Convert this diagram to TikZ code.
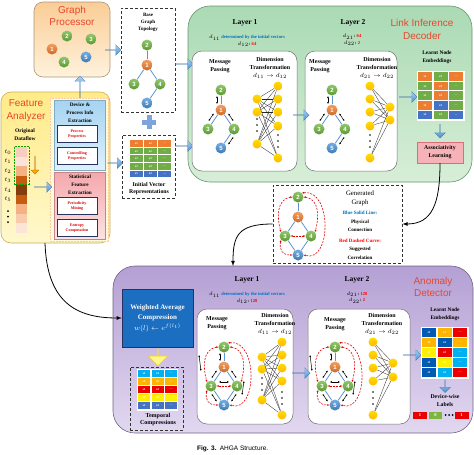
\documentclass[tikz,border=0pt]{standalone}
\usepackage{fontspec}
\setmainfont{Liberation Serif}
\newfontfamily\ttlfont{Liberation Sans}
\usetikzlibrary{positioning,calc,shapes.arrows,arrows.meta}

\definecolor{ttlred}{RGB}{232,70,45}
\definecolor{physblue}{RGB}{91,150,210}
\definecolor{txtblue}{RGB}{0,112,192}
\definecolor{gnGreen}{RGB}{110,180,60}
\definecolor{gnOrange}{RGB}{242,125,45}
\definecolor{gnBlue}{RGB}{70,145,215}
\definecolor{neuYel}{RGB}{255,192,0}
\definecolor{arrBlue}{RGB}{80,145,210}
\definecolor{arrBlueL}{RGB}{165,205,240}
\definecolor{tOrange}{RGB}{237,125,49}
\definecolor{tGreen}{RGB}{112,173,71}
\definecolor{tBlue}{RGB}{68,114,196}
\definecolor{tDBlue}{RGB}{0,90,180}
\definecolor{tCyan}{RGB}{0,176,240}
\definecolor{tGold}{RGB}{255,180,0}
\definecolor{tRed}{RGB}{235,0,0}
\definecolor{tYel}{RGB}{255,240,0}
\definecolor{navyb}{RGB}{40,50,95}
\definecolor{gpTop}{RGB}{250,205,150}
\definecolor{gpBot}{RGB}{255,242,220}
\definecolor{gpLine}{RGB}{170,150,120}
\definecolor{faTop}{RGB}{255,235,135}
\definecolor{faBot}{RGB}{255,248,205}
\definecolor{faLine}{RGB}{200,175,90}
\definecolor{faIn}{RGB}{255,250,218}
\definecolor{devTop}{RGB}{165,212,242}
\definecolor{devBot}{RGB}{222,240,252}
\definecolor{stTop}{RGB}{244,168,172}
\definecolor{stBot}{RGB}{252,226,228}
\definecolor{lidTop}{RGB}{170,218,180}
\definecolor{lidBot}{RGB}{215,238,215}
\definecolor{lidLine}{RGB}{100,150,110}
\definecolor{adTop}{RGB}{180,160,212}
\definecolor{adBot}{RGB}{226,216,240}
\definecolor{adLine}{RGB}{110,100,135}
\definecolor{wacBlue}{RGB}{28,110,192}
\definecolor{alFill}{RGB}{246,178,182}
\definecolor{alLine}{RGB}{215,110,120}
\definecolor{plusBlue}{RGB}{125,165,220}
\definecolor{df1}{RGB}{248,205,190}
\definecolor{df2}{RGB}{251,226,218}
\definecolor{df3}{RGB}{244,177,131}
\definecolor{df4}{RGB}{197,90,17}
\definecolor{df5}{RGB}{132,60,12}
\definecolor{df6}{RGB}{197,90,17}
\definecolor{df7}{RGB}{244,177,131}
\definecolor{df8}{RGB}{248,203,173}
\definecolor{df9}{RGB}{251,229,214}

\tikzset{
	gnode/.style={circle, inner sep=0pt, minimum size=11pt, text=white, font=\ttlfont\bfseries\fontsize{6}{6}\selectfont},
	gnG/.style={gnode, top color=gnGreen!75!white, bottom color=gnGreen!85!black},
	gnO/.style={gnode, top color=gnOrange!75!white, bottom color=gnOrange!85!black},
	gnB/.style={gnode, top color=gnBlue!75!white, bottom color=gnBlue!85!black},
	neuron/.style={circle, inner sep=0pt, minimum size=9pt, top color=neuYel!55!yellow, bottom color=neuYel!90!orange},
	phys/.style={draw=physblue, line width=0.8pt},
	syn/.style={line width=0.3pt, black!85},
	msgarr/.style={{Latex[length=2pt,width=1.8pt]}-{Latex[length=2pt,width=1.8pt]}, line width=0.5pt},
	corr/.style={draw=red!90!black, dash pattern=on 2pt off 1.3pt, line width=0.6pt, {Latex[length=2pt,width=2pt]}-{Latex[length=2pt,width=2pt]}},
	dashbox/.style={draw=black!80, dash pattern=on 3pt off 2pt, line width=0.8pt, fill=white, inner sep=0pt},
	bigbox/.style={rounded corners=#1, inner sep=0pt, line width=0.6pt},
	panel/.style={draw=black!55, line width=0.5pt, fill=white, rounded corners=10pt, inner sep=0pt},
	blkarrow/.style={single arrow, draw=arrBlue!80!black, line width=0.2pt, top color=arrBlueL, bottom color=arrBlue, minimum height=#1, minimum width=11pt, single arrow head extend=2.5pt, inner sep=0pt},
	ttl/.style={text=ttlred, font=\ttlfont\fontsize{10}{12.5}\selectfont, align=center, inner sep=0pt},
	lbl/.style={font=\bfseries\fontsize{6}{8}\selectfont, align=center, inner sep=0pt},
	layerlbl/.style={font=\bfseries\fontsize{7.5}{8}\selectfont, inner sep=0pt},
	dimlbl/.style={font=\bfseries\fontsize{4.6}{6.5}\selectfont, align=center, inner sep=0pt},
	subbox/.style={draw=navyb, line width=0.6pt, fill=white, minimum width=40pt, minimum height=17pt, inner sep=0pt, text=red!85!black, align=center, font=\bfseries\fontsize{4}{5}\selectfont},
	cell/.style={inner sep=0pt, text=white, font=\bfseries\fontsize{3}{3}\selectfont},
	grf/.pic={
		\node[gnO] (-n1) at (0,0) {1};
		\node[gnG] (-n2) at (0,-20) {2};
		\node[gnG] (-n3) at (-13,19) {3};
		\node[gnG] (-n4) at (13,19) {4};
		\node[gnB] (-n5) at (0,38) {5};
	}
}

% table of x1 x2 ... cells: name, left, top, width, height, rows
\newcommand\celltable[6]{%
	\foreach [count=\r] \ca/\cb/\cc in {#6} {
		\node[cell, fill=\ca, minimum width=#4pt, minimum height=#5pt, anchor=north west] (#1-\r-1) at ({#2},{#3+(\r-1)*(#5+1)}) {x1};
		\node[cell, fill=\cb, minimum width=#4pt, minimum height=#5pt, right=1pt of #1-\r-1] (#1-\r-2) {x2};
		\node[cell, fill=\cc, minimum width=#4pt, minimum height=#5pt, right=1pt of #1-\r-2] (#1-\r-3) {\dots};
	}}
% neuron column, links and dots
\newcommand\neucol[3]{\foreach [count=\k] \yy in {#3} \node[neuron] (#1\k) at (#2,\yy) {};}
\newcommand\neulinks[4]{\foreach \i in {1,...,#2} \foreach \j in {1,...,#4} \draw[syn] (#1\i) -- (#3\j);}
\newcommand\neudots[2]{\foreach \d in {#2} \fill (#1,\d) circle (0.9pt);}
% graph edges
\newcommand\physedges[2]{\foreach \a/\b in {#2} \draw[phys] (#1-n\a) -- (#1-n\b);}
\newcommand\msgarrows[2]{\foreach \a/\b in {#2} \draw[msgarr] ($(#1-n\a)!0.3!(#1-n\b)!4pt!90:(#1-n\b)$) -- ($(#1-n\a)!0.7!(#1-n\b)!4pt!-90:(#1-n\a)$);}
\newcommand\corrs[1]{%
	\draw[corr] (#1-n2.west) .. controls +(-16,2) and +(-4,-14) .. (#1-n3.north west);
	\draw[corr] (#1-n2.east) .. controls +(16,2) and +(4,-14) .. (#1-n4.north east);
	\draw[corr] (#1-n2.north east) .. controls +(30,-4) and +(28,8) .. (#1-n5.east);
	\draw[corr] (#1-n3) -- (#1-n4);
	\draw[corr] (#1-n3.south west) .. controls +(-2,10) and +(-10,0) .. (#1-n5.west);
}

\begin{document}
\begin{tikzpicture}[x=1pt, y=-1pt, >=latex, font=\bfseries\fontsize{6}{7}\selectfont]
	\useasboundingbox (0,0) rectangle (474,455);
	
	%große Kästen
	\node[bigbox=9pt, draw=gpLine, top color=gpTop, bottom color=gpBot, minimum width=76pt, minimum height=75pt] (gp) at (72,39.5) {};
	\node[bigbox=10pt, draw=faLine, top color=faTop, bottom color=faBot, minimum width=109pt, minimum height=151pt] (fa) at (55.5,167.5) {};
	\node[bigbox=22pt, draw=lidLine, top color=lidTop, bottom color=lidBot, minimum width=284pt, minimum height=176pt] (lid) at (330,94) {};
	\node[bigbox=22pt, draw=adLine, top color=adTop, bottom color=adBot, minimum width=360pt, minimum height=167pt] (ad) at (293,349.5) {};
	
	\node[ttl] (gpttl) at (72,16) {Graph\\Processor};
	\node[ttl] (fattl) at (26,110.5) {Feature\\Analyzer};
	\node[ttl] (lidttl) at (422,29.5) {Link Inference\\Decoder};
	\node[ttl] (adttl) at (433,287) {Anomaly\\Detector};
	
	%Graph Processor
	\node[gnO] (gp1) at (52,49) {1};
	\node[gnG] (gp2) at (67,36) {2};
	\node[gnG] (gp3) at (91,39) {3};
	\node[gnG] (gp4) at (64,62) {4};
	\node[gnB] (gp5) at (86,57) {5};
	
	%Feature Analyzer
	\node[draw=orange!40, dash pattern=on 2pt off 1pt, fill=faIn, minimum width=58pt, minimum height=143pt, inner sep=0pt] (fain) at (79,169.5) {};
	\node[draw=devTop!80!black, top color=devTop, bottom color=devBot, minimum width=51pt, minimum height=70pt, inner sep=0pt] (dev) at (79.5,135) {};
	\node[draw=stTop!80!black, top color=stTop, bottom color=stBot, minimum width=51pt, minimum height=67pt, inner sep=0pt] (st) at (79.5,205.5) {};
	\node[lbl, font=\bfseries\fontsize{5.2}{7.8}\selectfont] (devtxt) at (80,113) {Device \&\\Process Info\\Extraction};
	\node[subbox] (pp) at (77,134) {Process\\Properties};
	\node[subbox] (cp) at (77,156) {Controlling\\Properties};
	\node[lbl, font=\bfseries\fontsize{5.2}{7.8}\selectfont] (sttxt) at (80,185) {Statistical\\Feature\\Extraction};
	\node[subbox] (pm) at (77,206) {Periodicity\\Mining};
	\node[subbox] (ec) at (77,228) {Entropy\\Computation};
	
	\node[lbl, font=\bfseries\fontsize{5.5}{8}\selectfont] (odtxt) at (25,134.5) {Original\\Dataflow};
	\foreach [count=\k] \c in {df1,df2,df3,df4,df5,df6,df7,df8,df9}
		\node[fill=\c, minimum width=11pt, minimum height=9.5pt, inner sep=0pt] (df\k) at (21.5,{152+(\k-1)*9.5}) {};
	\foreach \k in {0,...,5}
		\node[inner sep=0pt, font=\fontsize{6.5}{7}\selectfont] (t\k) at (8,{152+\k*9.5}) {$t_{\k}$};
	\foreach \d in {211,216.5,222} \fill (8,\d) circle (1pt);
	\draw[green!65!black, dash pattern=on 2pt off 1pt, line width=0.8pt] (14.5,146.5) rectangle (29,184);
	\node[single arrow, shape border rotate=270, top color=yellow!70!orange, bottom color=orange!80!yellow, draw=orange!70!black, line width=0.2pt, minimum height=18pt, minimum width=8pt, single arrow head extend=2pt, inner sep=0pt] (a-df) at (35,165) {};
	\node[blkarrow=18pt] (a-df-st) at (43,187) {};
	
	%Base Graph Topology
	\node[dashbox, minimum width=54pt, minimum height=104pt] (bgt) at (148,60) {};
	\node[lbl, font=\bfseries\fontsize{5}{7}\selectfont] (bgttxt) at (148,22) {Base\\Graph\\Topology};
	\pic (bg) at (147,65) {grf};
	\physedges{bg}{2/1,1/3,1/4,4/5}
	
	\fill[plusBlue] (142,119.5) rectangle (156,124.5);
	\fill[plusBlue] (146.5,115) rectangle (151.5,129);
	
	%Initial Vector Representations
	\node[dashbox, minimum width=53pt, minimum height=63pt] (ivr) at (148.5,166.5) {};
	\celltable{iv}{130}{140}{12.5}{6.6}{tOrange/tOrange/tOrange,tGreen/tGreen/tGreen,tGreen/tGreen/tGreen,tGreen/tGreen/tGreen,tBlue/tBlue/tBlue}
	\node[lbl, font=\bfseries\fontsize{5.8}{6.8}\selectfont] (ivrtxt) at (149,189) {Initial Vector\\Representations};
	
	%Pfeile links oben
	\node[blkarrow=16pt] (a-gp-bgt) at (113,50) {};
	\node[blkarrow=22pt, shape border rotate=90] (a-fa-gp) at (80,87) {};
	\node[blkarrow=15pt] (a-st-ivr) at (115,163) {};
	\node[blkarrow=18pt] (a-bgt-l1) at (184,64) {};
	\node[blkarrow=18pt] (a-ivr-l1) at (184,146) {};
	
	%Link Inference Decoder, Layer 1
	\node[layerlbl] (l1ttl) at (245,23) {Layer 1};
	\node[dimlbl] (l1d) at (247,41) {$d_{11}$ {\color{txtblue}determined by the initial vectors}\\$d_{12}$: {\color{red}64}};
	\node[panel, minimum width=105pt, minimum height=120pt] (p1) at (244.5,111) {};
	\node[lbl] (mp1txt) at (220,66) {Message\\Passing};
	\node[lbl] (dt1txt) at (270,68) {Dimension\\Transformation\\$d_{11}\rightarrow d_{12}$};
	\pic (mp1) at (221,110) {grf};
	\physedges{mp1}{2/1,1/3,1/4,4/5}
	\msgarrows{mp1}{1/2,3/1,1/4,4/5}
	\neucol{t1a}{257}{99,112,144}
	\neucol{t1b}{278}{86,99,112,126,158}
	\neulinks{t1a}{3}{t1b}{5}
	\neudots{257}{119,125,131}
	\neudots{278}{135,141,147}
	
	%Layer 2
	\node[layerlbl] (l2ttl) at (353,23) {Layer 2};
	\node[dimlbl] (l2d) at (352,40) {$d_{21}$: {\color{red}64}\\$d_{22}$: {\color{red}2}};
	\node[panel, minimum width=92pt, minimum height=120pt] (p2) at (351,111) {};
	\node[lbl] (mp2txt) at (320,66) {Message\\Passing};
	\node[lbl] (dt2txt) at (377,68) {Dimension\\Transformation\\$d_{21}\rightarrow d_{22}$};
	\pic (mp2) at (332,110) {grf};
	\physedges{mp2}{2/1,1/3,1/4,4/5}
	\msgarrows{mp2}{1/2,3/1,1/4,4/5}
	\neucol{t2a}{370}{86,99,112,126,158}
	\neucol{t2b}{390}{107,120}
	\neulinks{t2a}{5}{t2b}{2}
	\neudots{370}{135,141,147}
	
	\node[blkarrow=16pt] (a-l1-l2) at (301,115) {};
	\node[blkarrow=18pt] (a-l2-emb) at (408,97) {};
	
	%Learnt Node Embeddings oben
	\node[lbl, font=\bfseries\fontsize{5.4}{8}\selectfont] (emb1txt) at (437,57) {Learnt Node\\Embeddings};
	\fill[white] (416.5,70.5) rectangle (464.5,120.5);
	\celltable{emb1}{418}{72}{14}{8.6}{tOrange/tGreen/tOrange,tGreen/tOrange/tGreen,tGreen/tOrange/tGreen,tOrange/tBlue/tGreen,tBlue/tGreen/tBlue}
	\node[blkarrow=14pt, shape border rotate=270] (a-emb-al) at (440,131) {};
	\node[draw=alLine, fill=alFill, minimum width=46pt, minimum height=21pt, lbl, font=\bfseries\fontsize{5.8}{8}\selectfont] (al) at (440,152.5) {Associativity\\Learning};
	
	%Generated Graph
	\node[dashbox, minimum width=129pt, minimum height=78pt] (gen) at (337.5,224) {};
	\pic (gg) at (298,217) {grf};
	\physedges{gg}{2/1,1/3,1/4,3/5,4/5}
	\corrs{gg}
	\node[font=\mdseries\fontsize{6.8}{8.5}\selectfont, align=center, inner sep=0pt] (gentxt) at (360,198.5) {Generated\\Graph};
	\node[lbl, font=\bfseries\fontsize{5}{8.3}\selectfont] (genblue) at (360,221.5) {{\color{txtblue}Blue Solid Line:}\\Physical\\Connection};
	\node[lbl, font=\bfseries\fontsize{5}{8.3}\selectfont] (genred) at (360,249) {{\color{red}Red Dashed Curve:}\\Suggested\\Correlation};
	
	%Anomaly Detector
	\node[draw=navyb, fill=wacBlue, minimum width=71pt, minimum height=58pt, inner sep=0pt, text=white, align=center, font=\bfseries\fontsize{7}{10.5}\selectfont] (wac) at (157.5,318) {Weighted Average\\Compression\\$w(l)\leftarrow e^{f(l_t)}$};
	\node[single arrow, shape border rotate=270, fill=yellow!45, draw=yellow!60!orange, line width=0.3pt, minimum height=17pt, minimum width=19pt, single arrow head extend=4.5pt, inner sep=0pt] (a-wac-tc) at (158,357) {};
	\node[dashbox, fill=none, minimum width=53pt, minimum height=63pt] (tcb) at (156.5,398.5) {};
	\fill[white] (136.5,368.5) rectangle (177.5,410.5);
	\celltable{tc}{138}{370}{12}{7}{tCyan/tCyan/tCyan,tGold/tGold/tGold,tRed/tRed/tRed,tYel/tYel/tYel,tBlue/tBlue/tBlue}
	\node[lbl, font=\bfseries\fontsize{6}{7}\selectfont] (tctxt) at (158,420) {Temporal\\Compressions};
	
	%Layer 1 unten
	\node[layerlbl] (b1ttl) at (247,280) {Layer 1};
	\node[dimlbl] (b1d) at (247,298) {$d_{11}$ {\color{txtblue}determined by the initial vectors}\\$d_{12}$: {\color{red}128}};
	\node[panel, minimum width=96pt, minimum height=115pt] (q1) at (245,366.5) {};
	\node[lbl] (mq1txt) at (217,323.5) {Message\\Passing};
	\node[lbl] (dq1txt) at (275,324) {Dimension\\Transformation\\$d_{11}\rightarrow d_{12}$};
	\pic (mq1) at (224,367) {grf};
	\physedges{mq1}{2/1,1/3,1/4,3/5,4/5}
	\corrs{mq1}
	\msgarrows{mq1}{1/2,3/1,1/4,4/5,5/3,3/4}
	\draw[msgarr] ($(mq1-n1)+(-25,-12)$) -- ($(mq1-n1)+(-23,4)$);
	\draw[msgarr] ($(mq1-n1)+(20,14)$) -- ($(mq1-n1)+(18,28)$);
	\neucol{b1a}{262}{357,369,400}
	\neucol{b1b}{282}{342,355,368,381,415}
	\neulinks{b1a}{3}{b1b}{5}
	\neudots{262}{378,384,390}
	\neudots{282}{392,398,404}
	
	%Layer 2 unten
	\node[layerlbl] (b2ttl) at (357,280) {Layer 2};
	\node[dimlbl] (b2d) at (357,297.5) {$d_{21}$: {\color{red}128}\\$d_{22}$: {\color{red}2}};
	\node[panel, minimum width=102pt, minimum height=115pt] (q2) at (359,366.5) {};
	\node[lbl] (mq2txt) at (335,324) {Message\\Passing};
	\node[lbl] (dq2txt) at (382,324) {Dimension\\Transformation\\$d_{21}\rightarrow d_{22}$};
	\pic (mq2) at (335,367) {grf};
	\physedges{mq2}{2/1,1/3,1/4,3/5,4/5}
	\corrs{mq2}
	\msgarrows{mq2}{1/2,3/1,1/4,4/5,5/3,3/4}
	\draw[msgarr] ($(mq2-n1)+(-25,-12)$) -- ($(mq2-n1)+(-23,4)$);
	\draw[msgarr] ($(mq2-n1)+(20,14)$) -- ($(mq2-n1)+(18,28)$);
	\neucol{b2a}{373}{342,355,368,381,415}
	\neucol{b2b}{393}{363,377}
	\neulinks{b2a}{5}{b2b}{2}
	\neudots{373}{392,398,404}
	
	\node[blkarrow=18pt] (b-l1-l2) at (301,373) {};
	\node[blkarrow=18pt] (b-l2-emb) at (412,355) {};
	
	%Learnt Node Embeddings unten
	\node[lbl, font=\bfseries\fontsize{5.4}{8}\selectfont] (emb2txt) at (445,314) {Learnt Node\\Embeddings};
	\fill[white] (420.5,326.5) rectangle (468.5,378.5);
	\celltable{emb2}{422}{328}{14}{9}{tDBlue/tGold/tRed,tGold/tDBlue/tGold,tYel/tRed/tCyan,tDBlue/tYel/tCyan,tDBlue/tCyan/tRed}
	\node[blkarrow=13pt, shape border rotate=270] (b-emb-lab) at (445,386) {};
	\node[lbl, font=\bfseries\fontsize{5.8}{8}\selectfont] (labtxt) at (445,401) {Device-wise\\Labels};
	\node[cell, fill=tRed, minimum width=14pt, minimum height=7pt, font=\bfseries\fontsize{4.5}{5}\selectfont] (lab1) at (420,415) {1};
	\node[cell, fill=tGreen!90!yellow, minimum width=13pt, minimum height=7pt, font=\bfseries\fontsize{4.5}{5}\selectfont] (lab2) at (435.5,415) {0};
	\foreach \d in {445.5,449,452.5} \fill (\d,415) circle (1pt);
	\node[cell, fill=tRed, minimum width=14pt, minimum height=7pt, font=\bfseries\fontsize{4.5}{5}\selectfont] (lab3) at (461.5,415) {1};
	
	%Verbindungskurven
	\draw[->, line width=0.8pt] (al.south) .. controls +(0,40) and +(30,0) .. (gen.east);
	\coordinate (adin) at (233,266);
	\draw[->, line width=0.8pt] (gen.west) .. controls +(-35,0) and +(0,-30) .. (adin);
	\coordinate (faout) at (45,243);
	\draw[->, line width=0.8pt] (faout) .. controls +(2,60) and +(-45,0) .. (wac.west);
	
	\node[anchor=west, inner sep=0pt, font=\ttlfont\fontsize{6.5}{7}\selectfont] (cap) at (197,449) {\textbf{Fig. 3.}\enspace AHGA Structure.};
\end{tikzpicture}
\end{document}
